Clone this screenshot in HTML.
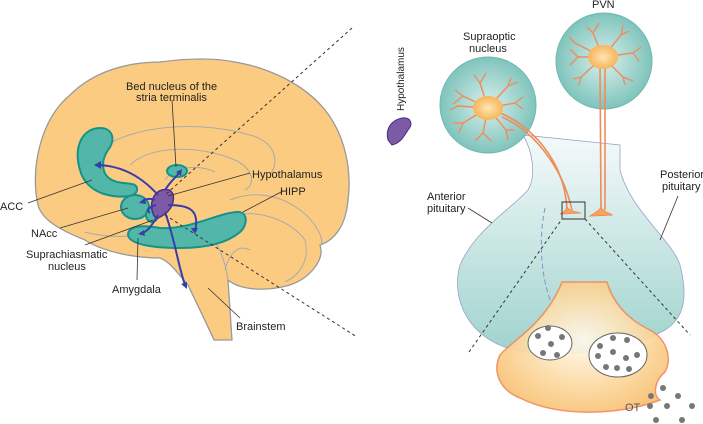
<!DOCTYPE html>
<html><head><meta charset="utf-8"><style>
html,body{margin:0;padding:0;background:#fff;}
svg{display:block;font-family:"Liberation Sans",sans-serif;}
</style></head><body>
<svg width="703" height="424" viewBox="0 0 703 424" xmlns="http://www.w3.org/2000/svg">
<defs>
<linearGradient id="pit" x1="0" y1="0" x2="0" y2="1">
<stop offset="0" stop-color="#f4fafa"/><stop offset="1" stop-color="#9fd3cd"/>
</linearGradient>
<radialGradient id="circ" cx="0.5" cy="0.5" r="0.5">
<stop offset="0" stop-color="#d9efec"/><stop offset="1" stop-color="#7fc4bc"/>
</radialGradient>
<radialGradient id="term" cx="0.5" cy="0.45" r="0.6">
<stop offset="0" stop-color="#fffaf0"/><stop offset="0.6" stop-color="#fcd9a0"/><stop offset="1" stop-color="#f8c072"/>
</radialGradient>
<radialGradient id="cell" cx="0.5" cy="0.5" r="0.5">
<stop offset="0" stop-color="#fde6b4"/><stop offset="1" stop-color="#f7b55a"/>
</radialGradient>
</defs>

<!-- Brain -->
<path d="M38,205 C30,170 40,120 70,95 C95,70 130,62 160,62 C190,58 215,58 235,62 C270,68 305,85 325,110 C345,135 352,170 348,200 C346,225 335,240 320,245 C325,260 310,278 290,285 C265,292 240,290 228,280 L232,340 L214,340 C205,320 195,300 188,285 C175,270 170,262 160,258 C130,258 100,250 85,240 C60,230 42,220 38,205 Z" fill="#fbcb82" stroke="#999" stroke-width="1.3"/>
<g fill="none" stroke="#aaa" stroke-width="1">
<path d="M100,150 C130,125 200,120 250,135 C275,142 280,160 270,175"/>
<path d="M130,165 C150,145 200,145 235,160 C255,170 255,185 245,190"/>
<path d="M165,180 C175,165 200,165 215,172"/>
<path d="M230,200 C255,190 280,195 300,210 C320,225 325,245 320,245"/>
<path d="M235,215 C260,210 290,220 305,240 C310,260 300,275 285,282"/>
<path d="M228,280 C225,260 218,240 205,230"/>
<path d="M84,232 C110,238 130,238 150,232"/>
<path d="M225,270 C230,250 240,245 250,250"/>
</g>
<g fill="#52b7a9" stroke="#15928a" stroke-width="2">
<path d="M80,170 C73,146 83,128 100,128 C113,128 116,140 108,150 C100,162 102,175 112,180 C122,186 138,180 137,190 C136,198 118,198 104,194 C92,190 83,182 80,170 Z"/>
<ellipse cx="135" cy="207" rx="14" ry="12"/>
<ellipse cx="152" cy="215" rx="6" ry="7"/>
<path d="M128,235 C128,225 145,225 160,228 C190,230 220,212 238,212 C248,212 248,225 240,232 C225,245 200,248 180,248 C160,248 130,246 128,235 Z"/>
<ellipse cx="177" cy="171" rx="10" ry="6"/>
</g>
<path d="M152,210 C150,200 155,192 162,190 C170,188 175,192 173,202 C171,210 165,215 158,218 C154,218 153,214 152,210 Z" fill="#7d5aa5" stroke="#4b2f82" stroke-width="1.5"/>
<g fill="none" stroke="#3a3da8" stroke-width="2">
<path d="M158,195 C140,175 120,165 96,165"/>
<path d="M165,190 C170,182 175,178 180,172"/>
<path d="M155,200 C150,198 145,199 141,202"/>
<path d="M156,205 C148,207 146,210 150,213"/>
<path d="M158,215 C152,225 148,232 140,234"/>
<path d="M168,205 C190,205 200,210 195,232"/>
<path d="M165,212 C175,240 178,265 185,285"/>
</g>
<g fill="#3a3da8">
<path d="M94,165 l7,-4 l0,8z"/><path d="M182,169 l-1,7 l-5,-4z"/><path d="M139,203 l6,-5 l1,6z"/>
<path d="M138,234 l6,-4 l1,6z"/><path d="M195,234 l-4,-6 l7,0z"/><path d="M187,289 l-6,-5 l6,-2z"/>
</g>
<g stroke="#333" stroke-width="0.8">
<line x1="28" y1="203" x2="92" y2="180"/>
<line x1="60" y1="228" x2="128" y2="208"/>
<line x1="85" y1="245" x2="153" y2="220"/>
<line x1="137" y1="280" x2="138" y2="238"/>
<line x1="172" y1="100" x2="176" y2="167"/>
<line x1="250" y1="173" x2="168" y2="196"/>
<line x1="283" y1="191" x2="243" y2="212"/>
<line x1="240" y1="318" x2="208" y2="288"/>
</g>
<g stroke="#333" stroke-width="1" stroke-dasharray="3,3" fill="none">
<line x1="352" y1="28" x2="165" y2="195"/>
<line x1="165" y1="215" x2="357" y2="337"/>
</g>
<g font-size="11" fill="#222">
<text x="0" y="210">ACC</text>
<text x="31" y="237">NAcc</text>
<text x="26" y="258">Suprachiasmatic</text>
<text x="48" y="270">nucleus</text>
<text x="112" y="293">Amygdala</text>
<text x="126" y="90">Bed nucleus of the</text>
<text x="136" y="101">stria terminalis</text>
<text x="252" y="178">Hypothalamus</text>
<text x="280" y="195">HIPP</text>
<text x="236" y="330">Brainstem</text>
</g>

<!-- right panel -->
<path d="M388,140 C385,128 392,120 402,118 C412,117 413,125 408,130 C403,138 400,143 392,145 Z" fill="#7d5aa5" stroke="#4b2f82" stroke-width="1"/>
<text transform="translate(404,111) rotate(-90)" font-size="10" fill="#222">Hypothalamus</text>

<path d="M523,135 C532,150 537,175 528,190 C510,210 475,230 460,265 C450,300 470,340 515,350 C560,360 630,350 665,330 C690,315 685,285 680,265 C672,240 630,210 620,170 L620,145 Z" fill="url(#pit)" stroke="#9aa0cc" stroke-width="0.8"/>
<path d="M545,208 C538,240 540,290 560,320" fill="none" stroke="#8890cc" stroke-width="1" stroke-dasharray="5,3"/>
<g stroke="#333" stroke-width="1" stroke-dasharray="3,3" fill="none">
<line x1="469" y1="352" x2="562" y2="219"/>
<line x1="585" y1="219" x2="690" y2="335"/>
</g>

<path d="M562,282 L607,282 C612,300 625,318 650,330 C668,340 672,360 665,372 C655,380 652,395 660,400 C620,415 560,418 520,398 C500,390 492,372 500,355 C510,342 545,325 562,282 Z" fill="url(#term)" stroke="#ef8c5c" stroke-width="1.5" opacity="0.92"/>
<ellipse cx="550" cy="343" rx="22" ry="17" fill="#fff" stroke="#666"/>
<ellipse cx="618" cy="355" rx="29" ry="22" fill="#fff" stroke="#666"/>
<g fill="#777">
<circle cx="538" cy="336" r="3"/><circle cx="548" cy="328" r="3"/><circle cx="562" cy="337" r="3"/><circle cx="551" cy="344" r="3"/><circle cx="543" cy="353" r="3"/><circle cx="557" cy="355" r="3"/>
<circle cx="600" cy="346" r="3"/><circle cx="613" cy="338" r="3"/><circle cx="627" cy="340" r="3"/><circle cx="598" cy="356" r="3"/><circle cx="613" cy="352" r="3"/><circle cx="626" cy="358" r="3"/><circle cx="637" cy="355" r="3"/><circle cx="606" cy="367" r="3"/><circle cx="617" cy="368" r="3"/><circle cx="629" cy="369" r="3"/>
<circle cx="651" cy="396" r="3"/><circle cx="663" cy="388" r="3"/><circle cx="678" cy="396" r="3"/><circle cx="650" cy="406" r="3"/><circle cx="667" cy="406" r="3"/><circle cx="692" cy="406" r="3"/><circle cx="656" cy="420" r="3"/><circle cx="682" cy="420" r="3"/>
</g>
<text x="625" y="411" font-size="11" fill="#555">OT</text>

<circle cx="488" cy="105" r="48" fill="url(#circ)" stroke="#6fb8af"/>
<circle cx="604" cy="61" r="48" fill="url(#circ)" stroke="#6fb8af"/>
<g fill="none" stroke="#ef8c5c" stroke-width="1.6">
<path d="M500,113 C530,125 565,160 567,210"/><path d="M502,117 C532,130 562,165 572,210"/>
<path d="M600,65 L601,210"/><path d="M605,65 L605,210"/>
<g stroke-width="1.4">
<path d="M488,108 l-25,-12 l-8,-6 m8,6 l-10,8"/><path d="M488,108 l-8,-25 l-6,-8 m6,8 l6,-10"/><path d="M488,108 l20,-22 l3,-8 m-3,8 l10,-4"/><path d="M488,108 l27,-5 l8,-6 m-8,6 l8,6"/><path d="M488,108 l-5,25 l-8,8 m8,-8 l8,8"/><path d="M488,108 l-25,15 l-10,0 m10,0 l-4,10"/><path d="M488,108 l18,22 l2,10 m-2,-10 l8,0"/><path d="M488,108 l-30,-2 l-8,4"/>
<path d="M603,57 l-25,0 l-8,-8 m8,8 l-8,8"/><path d="M603,57 l-10,-24 l-6,-6 m6,6 l6,-10"/><path d="M603,57 l18,-22 l8,-4 m-8,4 l2,-10"/><path d="M603,57 l30,-4 l8,-6 m-8,6 l6,8"/><path d="M603,57 l20,20 l10,4 m-10,-4 l2,8"/><path d="M603,57 l-22,20 l-8,2 m8,-2 l-2,8"/><path d="M603,57 l-28,-14 l-6,-6"/>
</g>
</g>
<ellipse cx="488" cy="108" rx="15" ry="12" fill="url(#cell)"/>
<ellipse cx="603" cy="57" rx="15" ry="12" fill="url(#cell)"/>
<path d="M567,207 C570,212 578,212 580,213 L560,214 C565,212 566,210 567,207 Z" fill="#f7a45a" stroke="#ef8c5c"/>
<path d="M601,207 C603,212 610,213 612,215 L590,216 C596,212 600,210 601,207 Z" fill="#f7a45a" stroke="#ef8c5c"/>
<rect x="562" y="202" width="23" height="17" fill="none" stroke="#333" stroke-width="1"/>

<g stroke="#333" stroke-width="0.8">
<line x1="468" y1="208" x2="492" y2="223"/>
<line x1="678" y1="196" x2="660" y2="240"/>
</g>
<g font-size="11" fill="#222">
<text x="463" y="40">Supraoptic</text><text x="469" y="52">nucleus</text>
<text x="592" y="8">PVN</text>
<text x="427" y="200">Anterior</text><text x="427" y="212">pituitary</text>
<text x="660" y="178">Posterior</text><text x="662" y="190">pituitary</text>
</g>
</svg>
</body></html>
